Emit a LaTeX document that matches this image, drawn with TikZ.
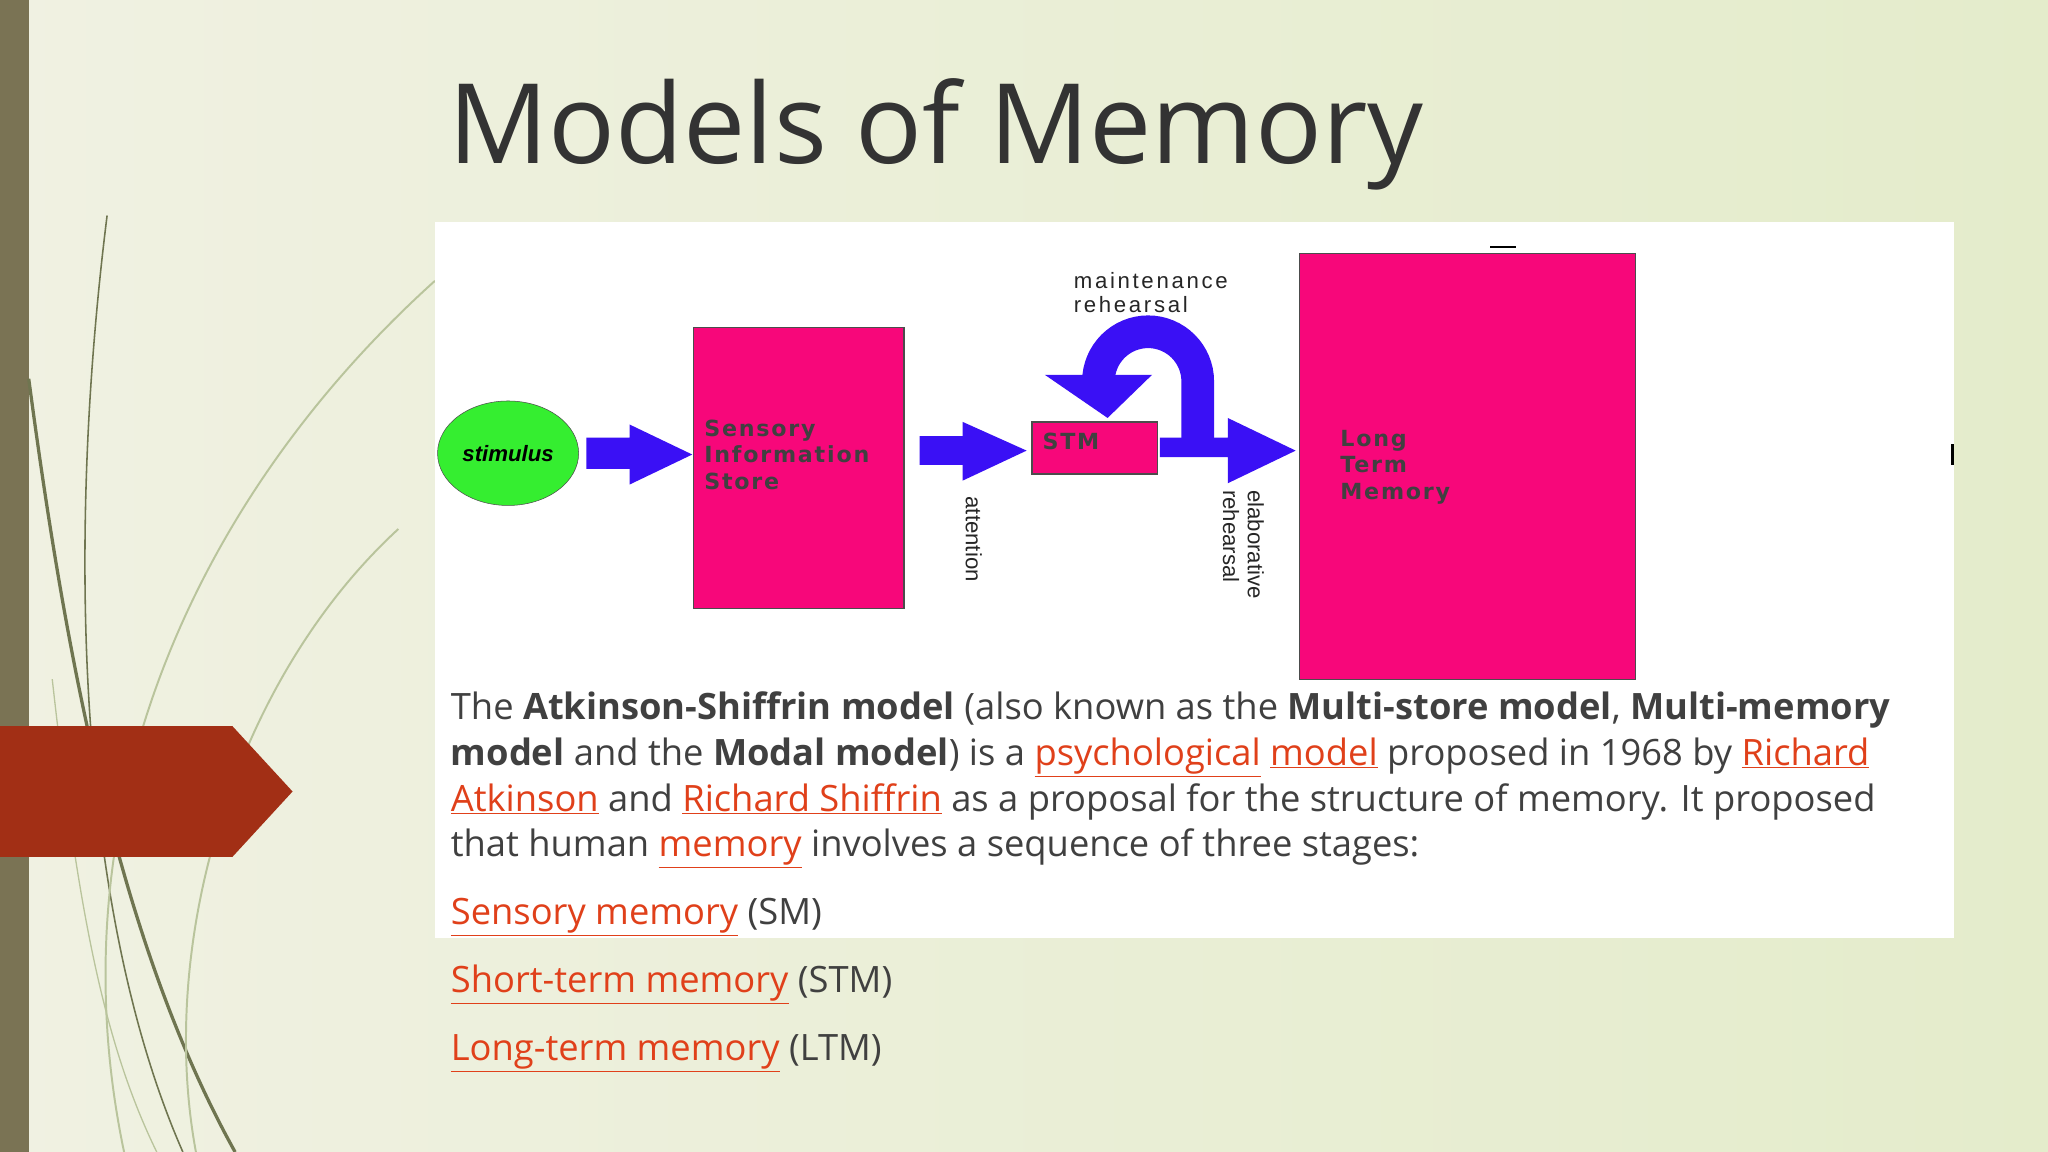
\documentclass[tikz,border=0pt]{standalone}
\usepackage{fontspec}
\usetikzlibrary{shapes.geometric}
\setmainfont{Open Sans}
\newfontfamily\diafont{DejaVu Sans}
\newfontfamily\labfont{Liberation Sans}
\definecolor{bgA}{HTML}{F0F1E2}
\definecolor{bgB}{HTML}{E4ECCB}
\definecolor{leftbar}{HTML}{7A7354}
\definecolor{chevron}{HTML}{A22F15}
\definecolor{pinkbox}{HTML}{F7077A}
\definecolor{bluearr}{HTML}{3A10F5}
\definecolor{greenell}{HTML}{35EE30}
\definecolor{txt}{HTML}{404040}
\definecolor{link}{HTML}{E0401A}
\definecolor{grassA}{HTML}{6F7550}
\definecolor{grassB}{HTML}{B9C49C}
\newcommand{\lk}[1]{{\color{link}\underline{#1}}}
\tikzset{
  box/.style={fill=pinkbox,draw=black!70,line width=1pt},
  blk/.style={fill=bluearr,draw=none},
  diatext/.style={font=\diafont\bfseries\fontsize{17}{20.5}\selectfont\addfontfeature{LetterSpace=8},text=black!75,align=left,anchor=north west,inner sep=0pt},
  lab/.style={font=\labfont\fontsize{17}{19}\selectfont,text=black!85,inner sep=0pt},
  body/.style={font=\fontsize{27.8}{35}\selectfont,text=txt,anchor=base west,inner sep=0pt},
}
\begin{document}
\begin{tikzpicture}[x=1pt,y=-1pt]
\useasboundingbox (0,0) rectangle (1568,882);
\shade[left color=bgA,right color=bgB] (0,0) rectangle (1568,882);
\fill[leftbar] (0,0) rectangle (22,882);
% grass
\draw[grassA,line width=1.2pt] (82,165) .. controls (50,420) and (60,700) .. (140,882);
\draw[grassA,line width=2.5pt] (22,290) .. controls (50,500) and (90,720) .. (180,882);
\draw[grassB,line width=1.5pt] (333,215) .. controls (150,380) and (40,620) .. (95,882);
\draw[grassB,line width=1.5pt] (305,405) .. controls (180,520) and (120,720) .. (150,882);
\draw[grassB,line width=1pt] (40,520) .. controls (60,700) and (80,800) .. (120,882);
\fill[chevron] (0,556) -- (178,556) -- (224,606) -- (178,656) -- (0,656) -- cycle;
% title
\node[font=\fontsize{85}{95}\selectfont,text=black!80,anchor=base west,inner sep=0pt] (title) at (343,125) {Models of Memory};
% panel
\fill[white] (333,170) rectangle (1496,718);
\draw[black,line width=1.5pt] (1141,189) -- (1161,189);
\draw[black,line width=2pt] (1495,340) -- (1495,356);
% diagram
\node[ellipse,draw=black!70,fill=greenell,minimum width=108,minimum height=80,inner sep=0pt,font=\labfont\bfseries\itshape\fontsize{17}{20}\selectfont] (stim) at (389,347) {stimulus};
\node[box,minimum width=161,minimum height=215,inner sep=0pt] (sis) at (611.5,358.5) {};
\node[diatext] (sist) at (539,321) {Sensory\\Information\\Store};
\node[box,minimum width=96,minimum height=40,inner sep=0pt] (stm) at (838,343) {};
\node[diatext] (stmt) at (798,331) {STM};
\node[box,minimum width=257,minimum height=326,inner sep=0pt] (ltm) at (1123.5,357) {};
\node[diatext] (ltmt) at (1026,329) {Long\\Term\\Memory};
\path[blk] (449,335) -- (482,335) -- (482,325) -- (530,348) -- (482,371) -- (482,359) -- (449,359) -- cycle;
\path[blk] (704,334) -- (737,334) -- (737,323) -- (786,345) -- (737,368) -- (737,356) -- (704,356) -- cycle;
\path[blk] (888,335) -- (940,335) -- (940,320) -- (992,345) -- (940,370) -- (940,350) -- (888,350) -- cycle;
\draw[bluearr,line width=25pt] (917,348) -- (917,292) arc (0:-180:38) -- (841,290);
\path[blk] (800,287) -- (882,287) -- (848,320) -- cycle;
\node[lab,rotate=-90,anchor=north west] (att) at (752,380) {attention};
\node[lab,rotate=-90,anchor=north west,align=left] (elab) at (968,375) {elaborative\\rehearsal};
\node[lab,anchor=north west,align=left,font=\labfont\fontsize{17}{19}\selectfont\addfontfeature{LetterSpace=12}] (maint) at (822,208) {maintenance\\rehearsal};
% body text
\node[body] (l1) at (345,551) {The \textbf{Atkinson-Shiffrin model} (also known as the \textbf{Multi-store model}, \textbf{Multi-memory}};
\node[body] (l2) at (345,586) {\textbf{model} and the \textbf{Modal model}) is a \lk{psychological} \lk{model} proposed in 1968 by \lk{Richard}};
\node[body] (l3) at (345,621) {\lk{Atkinson} and \lk{Richard Shiffrin} as a proposal for the structure of memory. It proposed};
\node[body] (l4) at (345,656) {that human \lk{memory} involves a sequence of three stages:};
\node[body] (l5) at (345,708) {\lk{Sensory memory} (SM)};
\node[body] (l6) at (345,760) {\lk{Short-term memory} (STM)};
\node[body] (l7) at (345,812) {\lk{Long-term memory} (LTM)};
\end{tikzpicture}
\end{document}
